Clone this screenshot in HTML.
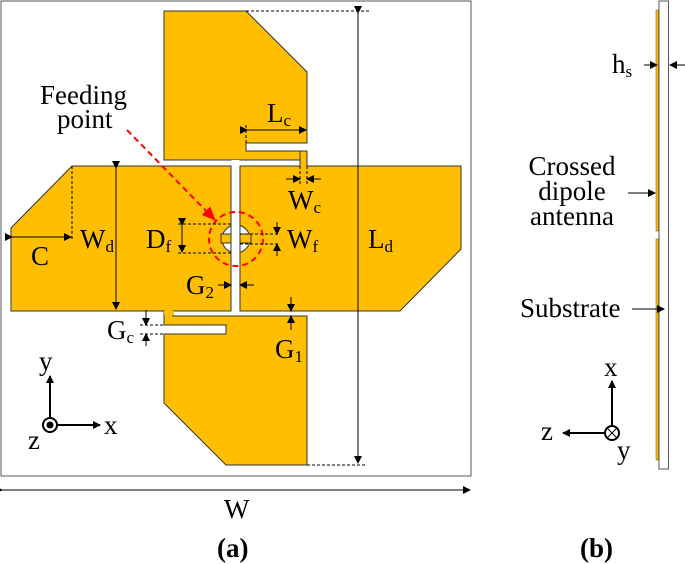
<!DOCTYPE html>
<html><head><style>body{margin:0;background:#fff}svg{display:block}text{font-family:"Liberation Serif",serif;fill:#000}</style></head><body>
<svg width="685" height="564" viewBox="0 0 685 564" xmlns="http://www.w3.org/2000/svg">
<defs>
<marker id="a" markerWidth="8" markerHeight="8" refX="7" refY="4" orient="auto" markerUnits="userSpaceOnUse"><path d="M0,0 L8,4 L0,8 z" fill="#000"/></marker>
<marker id="r" markerWidth="14" markerHeight="12" refX="13" refY="6" orient="auto" markerUnits="userSpaceOnUse"><path d="M0,0 L14,6 L0,12 z" fill="#f00"/></marker>
</defs>
<rect x="1" y="1" width="470" height="475" fill="#fff" stroke="#555" stroke-width="1"/>
<g fill="#FFBF00" stroke="#333" stroke-width="1">
<path d="M164,11 L246,11 L307,72 L307,143 L246,143 L246,151 L300,151 L300,160 L164,160 Z"/>
<path d="M300,151 L307,151 L307,166 L461,166 L461,249 L400,311 L240,311 L240,166 L300,166 Z"/>
<path d="M72,166 L231,166 L231,311 L173,311 L173,316 L307,316 L307,465 L226,465 L164,403 L164,334 L226,334 L226,325 L164,325 L164,311 L11,311 L11,228 Z"/>
</g>
<rect x="164" y="311" width="10" height="4" fill="#FFBF00"/>
<circle cx="236" cy="239" r="14" fill="#fff" stroke="#333"/>
<rect x="221" y="234" width="30" height="9" fill="#FFBF00" stroke="#333"/>
<rect x="231.5" y="160" width="8" height="152" fill="#fff"/>
<line x1="231" y1="166" x2="231" y2="311" stroke="#333"/>
<line x1="240" y1="166" x2="240" y2="311" stroke="#333"/>
<circle cx="236" cy="239" r="27" fill="none" stroke="#f00" stroke-width="2" stroke-dasharray="6,4"/>
<line x1="127" y1="130" x2="215" y2="220" stroke="#f00" stroke-width="2" stroke-dasharray="6,4" marker-end="url(#r)"/>
<g stroke="#000" stroke-width="1" fill="none">
<line x1="358" y1="13" x2="358" y2="463" marker-end="url(#a)" marker-start="url(#a)"/>
<line x1="2" y1="490" x2="470" y2="490" marker-end="url(#a)" marker-start="url(#a)"/>
<line x1="116" y1="168" x2="116" y2="309" marker-end="url(#a)" marker-start="url(#a)"/>
<line x1="12" y1="237" x2="71" y2="237" marker-end="url(#a)" marker-start="url(#a)"/>
<line x1="247" y1="130" x2="306" y2="130" marker-end="url(#a)" marker-start="url(#a)"/>
<line x1="182" y1="225" x2="182" y2="252" marker-end="url(#a)" marker-start="url(#a)"/>
<line x1="286" y1="179" x2="300" y2="179" marker-end="url(#a)"/>
<line x1="321" y1="179" x2="307" y2="179" marker-end="url(#a)"/>
<line x1="277" y1="222" x2="277" y2="234" marker-end="url(#a)"/>
<line x1="277" y1="256" x2="277" y2="244" marker-end="url(#a)"/>
<line x1="218" y1="285" x2="231" y2="285" marker-end="url(#a)"/>
<line x1="254" y1="285" x2="240" y2="285" marker-end="url(#a)"/>
<line x1="291" y1="297" x2="291" y2="311" marker-end="url(#a)"/>
<line x1="291" y1="330" x2="291" y2="316" marker-end="url(#a)"/>
<line x1="146" y1="310" x2="146" y2="325" marker-end="url(#a)"/>
<line x1="146" y1="346" x2="146" y2="334" marker-end="url(#a)"/>
<line x1="50" y1="418" x2="50" y2="376" stroke-width="2" marker-end="url(#a)"/>
<line x1="57" y1="425" x2="100" y2="425" stroke-width="2" marker-end="url(#a)"/>
</g>
<g stroke="#000" stroke-width="1" stroke-dasharray="3,2" fill="none">
<line x1="246" y1="11" x2="370" y2="11"/><line x1="307" y1="465" x2="367" y2="465"/>
<line x1="72" y1="166" x2="72" y2="240"/><line x1="246" y1="125" x2="246" y2="143"/>
<line x1="300" y1="166" x2="300" y2="184"/><line x1="307" y1="166" x2="307" y2="184"/>
<line x1="178" y1="224" x2="232" y2="224"/><line x1="178" y1="253" x2="232" y2="253"/>
<line x1="240" y1="234" x2="280" y2="234"/><line x1="240" y1="244" x2="280" y2="244"/>
<line x1="140" y1="325" x2="164" y2="325"/><line x1="140" y1="334" x2="164" y2="334"/>
</g>
<circle cx="50" cy="425" r="7" fill="#fff" stroke="#000" stroke-width="2"/><circle cx="50" cy="425" r="3.5" fill="#000"/>
<g font-size="27">
<text x="40" y="104">Feeding</text><text x="57" y="128">point</text>
<text x="267" y="122">L<tspan font-size="17" dy="4">c</tspan></text>
<text x="288" y="209">W<tspan font-size="17" dy="4">c</tspan></text>
<text x="80" y="248">W<tspan font-size="17" dy="4">d</tspan></text>
<text x="31" y="265">C</text>
<text x="146" y="248">D<tspan font-size="17" dy="4">f</tspan></text>
<text x="287" y="248">W<tspan font-size="17" dy="4">f</tspan></text>
<text x="368" y="248">L<tspan font-size="17" dy="4">d</tspan></text>
<text x="186" y="294">G<tspan font-size="17" dy="4">2</tspan></text>
<text x="107" y="339">G<tspan font-size="17" dy="4">c</tspan></text>
<text x="275" y="358">G<tspan font-size="17" dy="4">1</tspan></text>
<text x="39" y="370">y</text><text x="104" y="434">x</text><text x="28" y="449">z</text>
<text x="224" y="518">W</text>
<text x="217" y="557" font-weight="bold">(a)</text>
<text x="580" y="557" font-weight="bold">(b)</text>
<text x="612" y="73">h<tspan font-size="17" dy="4">s</tspan></text>
<text x="572" y="175" text-anchor="middle">Crossed</text>
<text x="572" y="200" text-anchor="middle">dipole</text>
<text x="572" y="225" text-anchor="middle">antenna</text>
<text x="520" y="317">Substrate</text>
<text x="604" y="376">x</text><text x="541" y="440">z</text><text x="617" y="459">y</text>
</g>
<rect x="659" y="1" width="9.5" height="468" fill="#fff" stroke="#555"/>
<rect x="656" y="10" width="2.5" height="221" fill="#FFBF00" stroke="#555" stroke-width="0.5"/>
<rect x="656" y="239" width="2.5" height="221" fill="#FFBF00" stroke="#555" stroke-width="0.5"/>
<g stroke="#000" stroke-width="1" fill="none">
<line x1="644" y1="65" x2="657" y2="65" marker-end="url(#a)"/>
<line x1="685" y1="65" x2="670" y2="65" marker-end="url(#a)"/>
<line x1="628" y1="193" x2="655" y2="193" marker-end="url(#a)"/>
<line x1="632" y1="309" x2="664" y2="309" marker-end="url(#a)"/>
<line x1="612" y1="426" x2="612" y2="381" stroke-width="2" marker-end="url(#a)"/>
<line x1="605" y1="433" x2="563" y2="433" stroke-width="2" marker-end="url(#a)"/>
<circle cx="612" cy="433" r="7" fill="#fff" stroke-width="2"/>
<line x1="607" y1="428" x2="617" y2="438"/><line x1="617" y1="428" x2="607" y2="438"/>
</g>
</svg>
</body></html>
